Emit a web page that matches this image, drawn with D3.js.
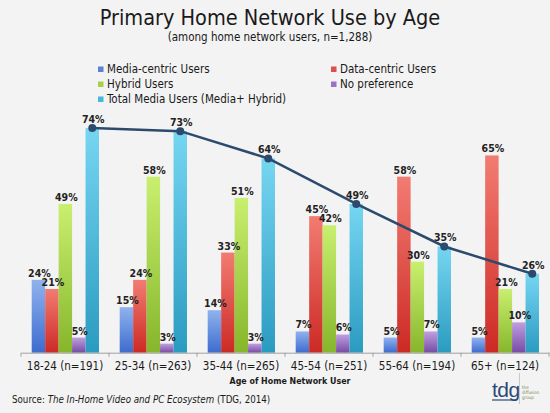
<!DOCTYPE html>
<html><head><meta charset="utf-8">
<script src="https://cdn.jsdelivr.net/npm/d3@7"></script>
<style>
html,body{margin:0;padding:0;background:#f3f3f3;}
svg{display:block;}
text{font-family:"DejaVu Sans Condensed","DejaVu Sans","Liberation Sans",sans-serif;font-stretch:condensed;}
</style></head><body>
<svg id="c" width="550" height="413"></svg>
<script>
const categories = ["18-24 (n=191)","25-34 (n=263)","35-44 (n=265)","45-54 (n=251)","55-64 (n=194)","65+ (n=124)"];
const seriesNames = ["Media-centric Users","Data-centric Users","Hybrid Users","No preference","Total Media Users (Media+ Hybrid)"];
const mediaCentric = [24,15,14,7,5,5];
const dataCentric  = [21,24,33,45,58,65];
const hybrid       = [49,58,51,42,30,21];
const noPreference = [5,3,3,6,7,10];
const totalMedia   = [74,73,64,49,35,26];
const seriesValues = [mediaCentric,dataCentric,hybrid,noPreference,totalMedia];
const colorsTop    = ["#90b2ee","#f27c72","#c9ef6f","#c09fe0","#76d6f2"];
const colorsBottom = ["#3d6cce","#cc2a24","#86b62c","#774ba4","#2a9bc0"];
const legendColors = ["#5a82d8","#e0504a","#a6d24a","#9a72c6","#46b8dc"];

const svg = d3.select("#c");
const defs = svg.append("defs");
colorsTop.forEach((c,i)=>{
  const g = defs.append("linearGradient").attr("id","g"+i).attr("x1",0).attr("y1",0).attr("x2",0).attr("y2",1);
  g.append("stop").attr("offset","0%").attr("stop-color",c);
  g.append("stop").attr("offset","100%").attr("stop-color",colorsBottom[i]);
});

// Title
svg.append("text").attr("x",270).attr("y",24.5).attr("text-anchor","middle")
  .style("font-size","21.5px").attr("fill","#1a1a1a").text("Primary Home Network Use by Age");
svg.append("text").attr("x",270).attr("y",40.5).attr("text-anchor","middle")
  .style("font-size","11.5px").attr("fill","#1a1a1a").text("(among home network users, n=1,288)");

// Legend
const legPos = [[98,69],[331,69],[98,84],[331,84],[98,99]];
seriesNames.forEach((name,si)=>{
  const [lx,ly] = legPos[si];
  svg.append("rect").attr("x",lx).attr("y",ly-2.5).attr("width",5.5).attr("height",5.5).attr("fill",legendColors[si]);
  svg.append("text").attr("x",lx+9).attr("y",ly+4.3).style("font-size","11.5px").attr("fill","#1a1a1a").text(name);
});

// Scales
const x0 = d3.scaleBand().domain(categories).range([21,549]).paddingInner(0).paddingOuter(0);
const x1 = d3.scaleBand().domain(d3.range(5)).range([10.7,78]);
const y = d3.scaleLinear().domain([0,100]).range([352.7,49.2]);

// Bars
const groups = svg.append("g").selectAll("g").data(categories).join("g")
  .attr("transform",d=>`translate(${x0(d)},0)`);
seriesValues.forEach((vals,si)=>{
  groups.append("rect")
    .attr("x",x1(si)).attr("width",x1.bandwidth())
    .attr("y",(d,i)=>y(vals[i])).attr("height",(d,i)=>y(0)-y(vals[i]))
    .attr("fill",`url(#g${si})`);
});

// Axis
const axis = d3.axisBottom(x0).tickSize(0).tickPadding(9);
const ax = svg.append("g").attr("transform",`translate(0,${y(0)})`).call(axis);
ax.select(".domain").attr("stroke","#a0a0a0");
ax.selectAll("text").style("font-size","11.5px").attr("fill","#1a1a1a")
  .style("font-family","'DejaVu Sans Condensed','DejaVu Sans','Liberation Sans',sans-serif");
const sepX = categories.map(c=>x0(c)).concat([x0.range()[1]]);
svg.append("g").selectAll("line").data(sepX).join("line")
  .attr("x1",d=>d).attr("x2",d=>d).attr("y1",y(0)).attr("y2",y(0)+4)
  .attr("stroke","#a0a0a0");

svg.append("text").attr("x",290).attr("y",383.5).attr("text-anchor","middle")
  .style("font-size","8.8px").style("font-weight","bold").attr("fill","#1a1a1a").text("Age of Home Network User");

// Value labels
seriesValues.forEach((vals,si)=>{
  groups.append("text")
    .attr("x",x1(si)+x1.bandwidth()/2+1)
    .attr("y",(d,i)=>y(vals[i])-(si===4?5:3))
    .attr("text-anchor","middle")
    .style("font-size","10.5px").style("font-weight","bold").attr("fill","#222")
    .text((d,i)=>vals[i]+"%");
});

// Line over total media
const lineX = (d,i)=>x0(categories[i])+x1(4)+x1.bandwidth()/2;
const line = d3.line().x((d,i)=>lineX(d,i)).y(d=>y(d));
svg.append("path").datum(totalMedia).attr("d",line).attr("fill","none")
  .attr("stroke","#2c4a6e").attr("stroke-width",2.5);
svg.append("g").selectAll("circle").data(totalMedia).join("circle")
  .attr("cx",(d,i)=>lineX(d,i)).attr("cy",d=>y(d)).attr("r",4).attr("fill","#2c4a6e");

// Source
const src = svg.append("text").attr("x",12).attr("y",403).style("font-size","9.7px").attr("fill","#1a1a1a");
src.append("tspan").text("Source: ");
src.append("tspan").style("font-style","italic").text("The In-Home Video and PC Ecosystem");
src.append("tspan").text(" (TDG, 2014)");

// Logo
svg.append("text").attr("x",492).attr("y",397).style("font-size","21px")
  .style("font-family","'Liberation Sans',sans-serif").style("font-stretch","normal")
  .attr("fill","#2a4a7a").attr("letter-spacing","-0.5").text("tdg");
svg.append("line").attr("x1",492).attr("x2",516).attr("y1",400).attr("y2",400).attr("stroke","#2a4a7a").attr("stroke-width",1.2);
svg.append("line").attr("x1",519.5).attr("x2",519.5).attr("y1",373).attr("y2",404).attr("stroke","#c8c8c8").attr("stroke-width",1);
["the","diffusion","group"].forEach((t,i)=>{
  svg.append("text").attr("x",522).attr("y",389+i*5).style("font-size","4.5px").attr("fill","#7a8a50").text(t);
});
</script>
</body></html>
